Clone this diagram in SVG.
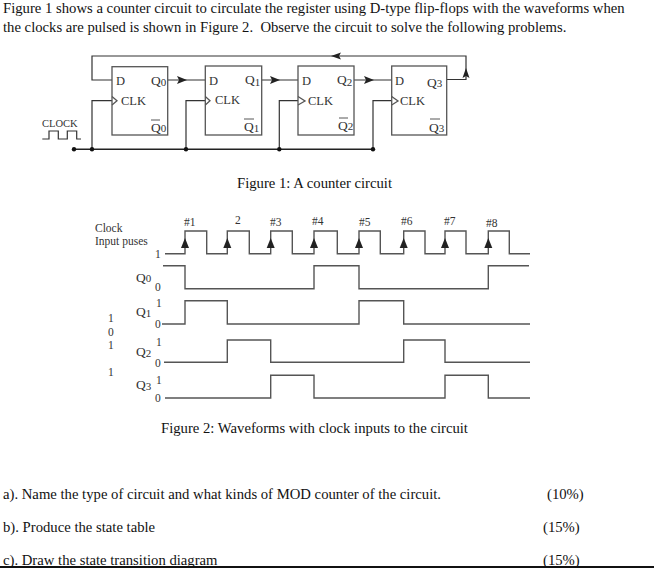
<svg xmlns="http://www.w3.org/2000/svg" width="654" height="568" viewBox="0 0 654 568">
<style>
text{font-family:"Liberation Serif","Times New Roman",serif;fill:#111}
.p{font-size:14.7px}
.l{font-size:12.5px;fill:#333}
.s{font-size:11.5px;fill:#333}
.q{font-size:13.5px;fill:#333}
.sub{font-size:11px}
.box{fill:#fff;stroke:#555;stroke-width:1.3}
.w{fill:none;stroke:#333;stroke-width:1.2}
.k{fill:none;stroke:#222;stroke-width:1.5}
.o{fill:none;stroke:#555;stroke-width:1.3}
.wave{fill:none;stroke:#555;stroke-width:1.4}
.bar{stroke:#444;stroke-width:.9}
</style>
<defs>
<circle id="dot" r="2.2" fill="#111"/>
<path id="tick" d="M-4 10L0 0L4 10Z" fill="#222"/>
</defs>
<g id="text-top">
<text class="p" x="3" y="13">Figure 1 shows a counter circuit to circulate the register using D-type flip-flops with the waveforms when</text>
<text class="p" x="3" y="32">the clocks are pulsed is shown in Figure 2.&#160; Observe the circuit to solve the following problems.</text>
</g>
<g id="connectors">
<path class="w" d="M112 80H92V56H466V79.500H447"/>
<path class="w" d="M168 80H205M262 80H298M354 80H392"/>
<path class="w" d="M112 100.700H92V149M205 100.700H186V149M298 100.700H279.300V149M392 100.700H373V149"/>
<path class="k" d="M74 149.300H373"/>
<use href="#dot" x="74" y="149.300"/><use href="#dot" x="92" y="149.300"/><use href="#dot" x="186" y="149.300"/><use href="#dot" x="279.300" y="149.300"/><use href="#dot" x="373" y="149.300"/>
<path d="M177 76L187 80L177 84L179 80Z" fill="#222"/>
<path d="M270 76L280 80L270 84L272 80Z" fill="#222"/>
<path d="M364 76L374 80L364 84L366 80Z" fill="#222"/>
<path d="M341 52.500L331 56L341 59.500L339 56Z" fill="#222"/>
<path d="M462.500 78L466 68L469.500 78L466 76Z" fill="#222"/>
</g>
<g id="ff0"><rect class="box" x="112" y="66.700" width="55.700" height="68.300"/><path class="o" d="M112 96.500L117 100.700L112 105"/>
<text class="l" x="116" y="85">D</text><text class="l" x="121" y="105">CLK</text><text class="q" x="151" y="85">Q<tspan class="sub" dy="1">0</tspan></text><text class="q" x="151" y="132">Q<tspan class="sub" dy="0">0</tspan></text><path class="bar" d="M151 120H160"/></g>
<g id="ff1"><rect class="box" x="205.300" y="66" width="56.400" height="69"/><path class="o" d="M205.300 96.500L210 100.700L205.300 105"/>
<text class="l" x="209" y="85">D</text><text class="l" x="215" y="104">CLK</text><text class="q" x="245" y="84">Q<tspan class="sub" dy="2">1</tspan></text><text class="q" x="244" y="131">Q<tspan class="sub" dy="1">1</tspan></text><path class="bar" d="M244 119H254"/></g>
<g id="ff2"><rect class="box" x="298" y="66" width="56" height="69"/><path class="o" d="M298 96.500L305 101L298 105"/>
<text class="l" x="302" y="85">D</text><text class="l" x="308" y="105">CLK</text><text class="q" x="337" y="84">Q<tspan class="sub" dy="2">2</tspan></text><text class="q" x="338" y="130">Q<tspan class="sub" dy="0">2</tspan></text><path class="bar" d="M339 118H348"/></g>
<g id="ff3"><rect class="box" x="391.700" y="66" width="55" height="69"/><path class="o" d="M391.700 96.500L398 101L391.700 105"/>
<text class="l" x="395" y="85">D</text><text class="l" x="400" y="105">CLK</text><text class="q" x="427" y="87">Q<tspan class="sub" dy="0">3</tspan></text><text class="q" x="429" y="132">Q<tspan class="sub" dy="0">3</tspan></text><path class="bar" d="M430 119H440"/></g>
<g id="clock-source"><text x="42" y="127" style="font-size:10.500px;fill:#333">CLOCK</text><path class="w" d="M42.300 139H49V131H58.300V139H67.300V131H76.700V139H81"/></g>
<text class="p" x="237" y="188">Figure 1: A counter circuit</text>
<g id="waveforms">
<text class="s" x="95" y="232">Clock</text><text class="s" x="95" y="245">Input puses</text>
<text class="s" x="184" y="226">#1</text><text class="s" x="235" y="224">2</text><text class="s" x="270" y="226">#3</text><text class="s" x="312" y="225">#4</text><text class="s" x="359" y="226">#5</text><text class="s" x="401" y="225">#6</text><text class="s" x="444" y="225">#7</text><text class="s" x="486" y="227">#8</text>
<path class="wave" d="M165 253.700H185V231H206.700V253.700H227.300V231H249.300V253.700H270.700V231H292.300V253.700H314V231H337.300V253.700H359V231H380.300V253.700H403.700V231H425V253.700H445V231H466V253.700H488.300V231H509.300V253.700H530"/>
<use href="#tick" x="185" y="238"/><use href="#tick" x="227.300" y="238"/><use href="#tick" x="270.700" y="238"/><use href="#tick" x="314" y="238"/><use href="#tick" x="359" y="238"/><use href="#tick" x="403.700" y="238"/><use href="#tick" x="445" y="238"/><use href="#tick" x="488.300" y="238"/>
<path class="wave" d="M163 265.700H185V288.700H314V265.700H359V288.700H488.300V265.700H529"/>
<path class="wave" d="M162 324H185V300.700H227.300V324H359V300.700H403.700V324H530"/>
<path class="wave" d="M164 362.300H227.300V340H270.700V362.300H403.700V340H445V362.300H530"/>
<path class="wave" d="M165 398H270.700V375.300H314V398H445V375.300H488.300V398H530"/>
<text class="s" x="155" y="258">1</text>
<text class="q" x="136" y="282">Q<tspan class="sub" dy="0">0</tspan></text><text class="s" x="155" y="291">0</text>
<text class="s" x="156" y="307">1</text><text class="q" x="136" y="316">Q<tspan class="sub" dy="1">1</tspan></text><text class="s" x="155" y="328">0</text>
<text class="s" x="156" y="346">1</text><text class="q" x="136" y="356">Q<tspan class="sub" dy="1">2</tspan></text><text class="s" x="155" y="367">0</text>
<text class="s" x="156" y="384">1</text><text class="q" x="136" y="389">Q<tspan class="sub" dy="1">3</tspan></text><text class="s" x="155" y="402">0</text>
<text class="s" x="108" y="322">1</text><text class="s" x="108" y="336">0</text><text class="s" x="108" y="349">1</text><text class="s" x="108" y="376">1</text>
</g>
<text class="p" x="161" y="433">Figure 2: Waveforms with clock inputs to the circuit</text>
<g id="questions">
<text class="p" x="3" y="499">a). Name the type of circuit and what kinds of MOD counter of the circuit.</text><text class="p" x="547" y="499">(10%)</text>
<text class="p" x="3" y="532">b). Produce the state table</text><text class="p" x="543" y="532">(15%)</text>
<text class="p" x="3" y="565">c). Draw the state transition diagram</text><text class="p" x="543" y="565">(15%)</text>
<rect x="0" y="566" width="654" height="2" fill="#111"/>
</g>
</svg>
